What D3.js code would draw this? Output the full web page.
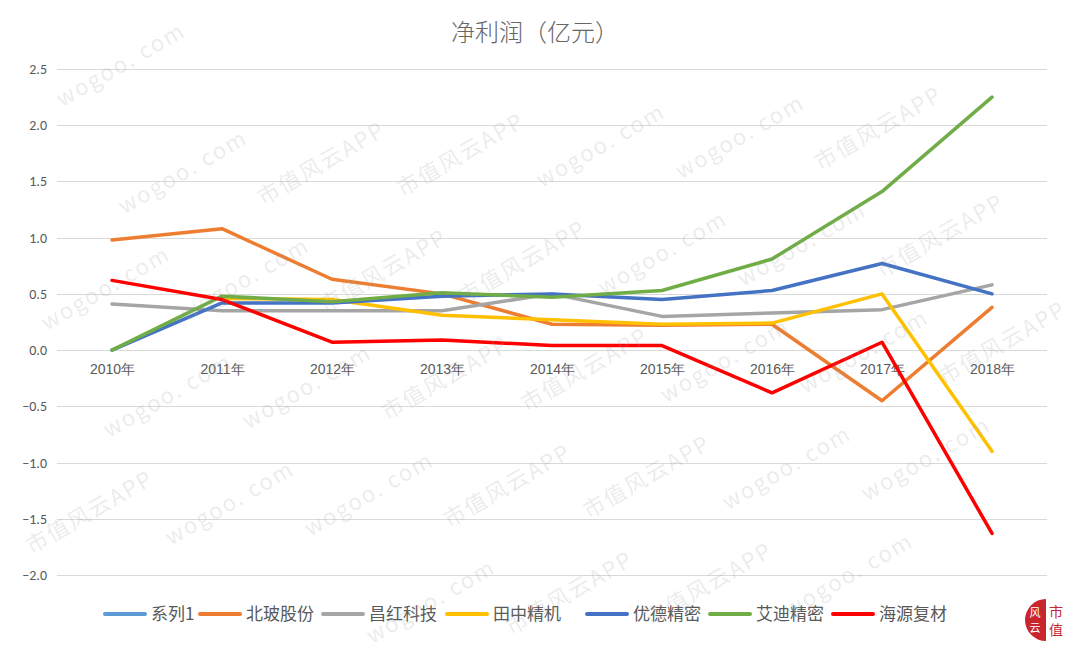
<!DOCTYPE html>
<html>
<head>
<meta charset="utf-8">
<script src="https://cdn.jsdelivr.net/npm/d3@7"></script>
<style>
  body { margin: 0; background: #fff; }
  svg { display: block; font-family: "Noto Sans CJK SC", "Microsoft YaHei", sans-serif; }
</style>
</head>
<body>
<div id="chart"></div>
<script>
const years = ['2010年', '2011年', '2012年', '2013年', '2014年', '2015年', '2016年', '2017年', '2018年'];
const yTicks = [-2.0, -1.5, -1.0, -0.5, 0.0, 0.5, 1.0, 1.5, 2.0, 2.5];

// 各公司净利润（亿元）
const xilie1 = [null, null, null, null, null, null, null, null, null];
const beibo = [0.98, 1.08, 0.63, 0.50, 0.23, 0.22, 0.23, -0.45, 0.38];
const changhong = [0.41, 0.35, 0.35, 0.35, 0.50, 0.30, 0.33, 0.36, 0.58];
const tianzhong = [null, 0.46, 0.45, 0.31, 0.27, 0.23, 0.24, 0.50, -0.90];
const youde = [0.00, 0.42, 0.42, 0.48, 0.50, 0.45, 0.53, 0.77, 0.50];
const aidi = [0.00, 0.48, 0.43, 0.51, 0.47, 0.53, 0.81, 1.41, 2.25];
const haiyuan = [0.62, 0.45, 0.07, 0.09, 0.04, 0.04, -0.38, 0.07, -1.63];

const seriesNames = ['系列1', '北玻股份', '昌红科技', '田中精机', '优德精密', '艾迪精密', '海源复材'];
const seriesValues = [xilie1, beibo, changhong, tianzhong, youde, aidi, haiyuan];
const colors = ['#5B9BD5', '#ED7D31', '#A5A5A5', '#FFC000', '#4472C4', '#70AD47', '#FF0000'];

const width = 1080;
const height = 649;
const margin = { left: 57, right: 33, top: 69, bottom: 74 };

const svg = d3.select('#chart').append('svg')
  .attr('width', width)
  .attr('height', height);

const x = d3.scalePoint()
  .domain(years)
  .range([margin.left, width - margin.right])
  .padding(0.5);

const y = d3.scaleLinear()
  .domain([-2.0, 2.5])
  .range([height - margin.bottom, margin.top]);

// 网格线
svg.append('g')
  .attr('class', 'grid')
  .selectAll('line')
  .data(yTicks)
  .enter()
  .append('line')
  .attr('x1', margin.left)
  .attr('x2', width - margin.right)
  .attr('y1', d => Math.round(y(d)) + 0.5)
  .attr('y2', d => Math.round(y(d)) + 0.5)
  .attr('stroke', '#D9D9D9')
  .attr('stroke-width', 1);

// y 轴
const yAxis = d3.axisLeft(y)
  .tickValues(yTicks)
  .tickFormat(d3.format('.1f'))
  .tickSize(0)
  .tickPadding(10);

svg.append('g')
  .attr('transform', `translate(${margin.left}, 0)`)
  .call(yAxis)
  .call(g => g.select('.domain').remove())
  .call(g => g.selectAll('text')
    .attr('fill', '#595959')
    .style('font-family', 'Calibri, Carlito, "Liberation Sans", sans-serif')
    .style('font-size', '14px'));

// x 轴（在 0 线下方）
const xAxis = d3.axisBottom(x).tickSize(0).tickPadding(14);

svg.append('g')
  .attr('transform', `translate(0, ${y(0)})`)
  .call(xAxis)
  .call(g => g.select('.domain').remove())
  .call(g => g.selectAll('text')
    .attr('fill', '#595959')
    .style('font-size', '14px'));

// 折线
const line = d3.line()
  .defined(d => d != null)
  .x((d, i) => x(years[i]))
  .y(d => y(d));

svg.append('g')
  .selectAll('path')
  .data(seriesValues)
  .enter()
  .append('path')
  .attr('d', d => line(d))
  .attr('fill', 'none')
  .attr('stroke', (d, i) => colors[i])
  .attr('stroke-width', 3.5)
  .attr('stroke-linejoin', 'round')
  .attr('stroke-linecap', 'round');

// 标题
svg.append('text')
  .attr('x', 535)
  .attr('y', 41)
  .attr('text-anchor', 'middle')
  .attr('fill', '#666')
  .style('font-size', '24px')
  .style('font-weight', 300)
  .text('净利润（亿元）');

// 图例
const legendX = [105, 200, 323, 447, 587, 710, 833];
const legend = svg.append('g')
  .selectAll('g')
  .data(seriesNames)
  .enter()
  .append('g')
  .attr('transform', (d, i) => `translate(${legendX[i]}, 614)`);

legend.append('line')
  .attr('x1', 0)
  .attr('x2', 40)
  .attr('stroke', (d, i) => colors[i])
  .attr('stroke-width', 4)
  .attr('stroke-linecap', 'round');

legend.append('text')
  .attr('x', 46)
  .attr('dy', '0.36em')
  .attr('fill', '#595959')
  .style('font-size', '17px')
  .text(d => d);

// 水印：沿 -30° 方向排布，只保留完整落在画面内的
const ang = Math.PI / 6;
const wmW = 150;
const wmCells = [];
for (let r = -6; r < 16; r++) {
  for (let c = -4; c < 8; c++) {
    const u = c * 250 + (r % 2 ? 125 : 0);
    const v = r * 62;
    const px = u * Math.cos(ang) + v * Math.sin(ang);
    const py = -u * Math.sin(ang) + v * Math.cos(ang);
    const ex = px + wmW * Math.cos(ang);
    const ey = py - wmW * Math.sin(ang);
    if (px > 2 && ex < width - 4 && ey > 24 && py < height - 4) {
      wmCells.push({ px, py, k: (r + c + 100) % 2 });
    }
  }
}

const wm = svg.append('g')
  .attr('pointer-events', 'none')
  .attr('fill', '#9a9a9a')
  .attr('fill-opacity', 0.2);

wm.selectAll('text')
  .data(wmCells)
  .enter()
  .append('text')
  .attr('transform', d => `translate(${d.px}, ${d.py}) rotate(-30)`)
  .style('font-size', '22px')
  .style('letter-spacing', '2px')
  .text(d => (d.k ? '市值风云APP' : 'wogoo. com'));

// 角标
const logo = svg.append('g').attr('transform', 'translate(1046, 620)');
logo.append('path')
  .attr('d', d3.arc()({ innerRadius: 0, outerRadius: 21, startAngle: Math.PI, endAngle: 2 * Math.PI }))
  .attr('fill', '#C8262C');
logo.append('text')
  .attr('x', -11)
  .attr('y', -3)
  .attr('text-anchor', 'middle')
  .attr('fill', '#fff')
  .style('font-size', '11px')
  .text('风');
logo.append('text')
  .attr('x', -11)
  .attr('y', 12)
  .attr('text-anchor', 'middle')
  .attr('fill', '#fff')
  .style('font-size', '11px')
  .text('云');
logo.append('text')
  .attr('x', 3)
  .attr('y', -3)
  .attr('fill', '#C8262C')
  .style('font-size', '14px')
  .text('市');
logo.append('text')
  .attr('x', 3)
  .attr('y', 15)
  .attr('fill', '#C8262C')
  .style('font-size', '14px')
  .text('值');
</script>
</body>
</html>
